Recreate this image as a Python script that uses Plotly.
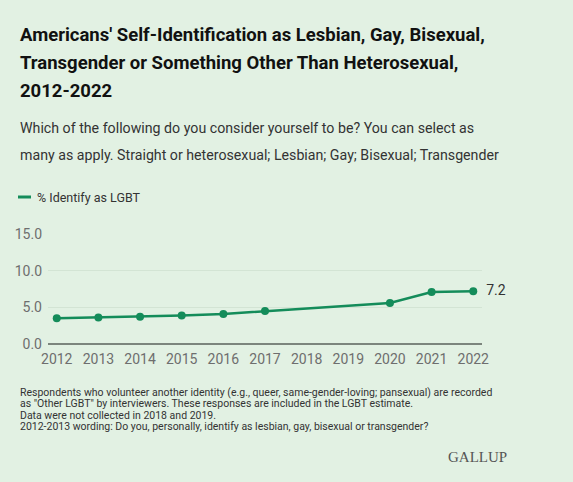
import plotly.graph_objects as go

years = [2012, 2013, 2014, 2015, 2016, 2017, 2020, 2021, 2022]
pct_lgbt = [3.5, 3.6, 3.7, 3.9, 4.1, 4.5, 5.6, 7.1, 7.2]
series_name = "% Identify as LGBT"
x_ticks = list(range(2012, 2023))
y_ticks = [0, 5, 10, 15]

title_lines = [
    "Americans' Self-Identification as Lesbian, Gay, Bisexual,",
    "Transgender or Something Other Than Heterosexual,",
    "2012-2022",
]
subtitle_lines = [
    "Which of the following do you consider yourself to be? You can select as",
    "many as apply. Straight or heterosexual; Lesbian; Gay; Bisexual; Transgender",
]
note_lines = [
    "Respondents who volunteer another identity (e.g., queer, same-gender-loving; pansexual) are recorded",
    "as \"Other LGBT\" by interviewers. These responses are included in the LGBT estimate.",
    "Data were not collected in 2018 and 2019.",
    "2012-2013 wording: Do you, personally, identify as lesbian, gay, bisexual or transgender?",
]

GREEN = "#148c5a"
BG = "#e2f1e3"
FONT = "Roboto, sans-serif"

W, H = 573, 482
L, R, T, B = 48, 91, 234, 138

fig = go.Figure()
labels = [""] * (len(pct_lgbt) - 1) + [f"  {pct_lgbt[-1]:.1f}"]
fig.add_trace(go.Scatter(
    x=years, y=pct_lgbt, mode="lines+markers+text",
    name=series_name,
    line=dict(color=GREEN, width=2.5),
    marker=dict(color=GREEN, size=8),
    text=labels, textposition="middle right",
    textfont=dict(family=FONT, size=14, color="#333333"),
    cliponaxis=False, showlegend=False, hoverinfo="skip",
))

fig.update_layout(
    width=W, height=H,
    margin=dict(l=L, r=R, t=T, b=B, autoexpand=False),
    paper_bgcolor=BG, plot_bgcolor=BG,
    font=dict(family=FONT, color="#666666", size=14),
    showlegend=False,
)
fig.update_xaxes(
    range=[2011.79, 2022.21], tickvals=x_ticks, ticktext=[str(v) for v in x_ticks],
    showgrid=False, zeroline=False, showline=False, ticks="",
    ticklabelstandoff=5,
    tickfont=dict(size=14, color="#6e6e6e"),
)
fig.update_yaxes(
    range=[0, 15], tickvals=y_ticks, ticktext=[f"{v:.1f}" for v in y_ticks],
    showgrid=True, gridcolor="#d3e4d4", gridwidth=1,
    zeroline=True, zerolinecolor="#7c857d", zerolinewidth=2,
    showline=False, ticks="", ticklabelstandoff=5,
    tickfont=dict(size=14, color="#6e6e6e"),
)

ann = []
for i, line in enumerate(title_lines):
    ann.append(dict(text=f"<b>{line}</b>", x=18, y=35 + 28 * i,
                    font=dict(family=FONT, size=18.5, color="#111111")))
for i, line in enumerate(subtitle_lines):
    ann.append(dict(text=line, x=18, y=128 + 27 * i,
                    font=dict(family=FONT, size=14.2, color="#333333")))
ann.append(dict(text=series_name, x=35, y=197,
                font=dict(family=FONT, size=12.5, color="#333333")))
for i, line in enumerate(note_lines):
    ann.append(dict(text=line, x=18, y=392 + 11.5 * i,
                    font=dict(family=FONT, size=10.5, color="#333333")))

final = []
for a in ann:
    px, py = a.pop("x"), a.pop("y")
    final.append(dict(
        a, xref="paper", yref="paper",
        x=(px - L) / (W - L - R), y=1 - (py - T) / (H - T - B),
        xanchor="left", yanchor="middle", showarrow=False, align="left",
    ))
# GALLUP logo text
final.append(dict(
    text="GALLUP", xref="paper", yref="paper",
    x=(509 - L) / (W - L - R), y=1 - (457 - T) / (H - T - B),
    xanchor="right", yanchor="middle", showarrow=False,
    font=dict(family="Liberation Serif, serif", size=15, color="#555555"),
))
fig.update_layout(annotations=final)

# legend swatch line
fig.add_shape(type="line", xref="paper", yref="paper",
              x0=(18 - L) / (W - L - R), x1=(31 - L) / (W - L - R),
              y0=1 - (197 - T) / (H - T - B), y1=1 - (197 - T) / (H - T - B),
              line=dict(color=GREEN, width=3))

fig.write_html(
    "out.html",
    config={"displayModeBar": False},
    post_script="document.body.style.margin='0';document.body.style.background='%s';" % BG,
)
